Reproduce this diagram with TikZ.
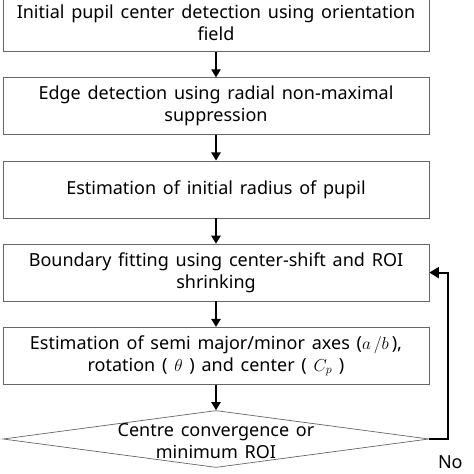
\documentclass[tikz,border=0pt]{standalone}
\usepackage{fontspec}
\setmainfont[WordSpace=1.45]{Noto Sans}
\usepackage{tikz}
\usetikzlibrary{arrows.meta,positioning,shapes.geometric}
\tikzset{>/.tip={Triangle[scale=1.1]}}

\begin{document}
\begin{tikzpicture}[x=1pt,y=1pt,node distance=25.5pt,
  box/.style={draw=black!60,line width=0.7pt,minimum width=426pt,minimum height=57pt,
    align=center,inner sep=0pt,font=\fontsize{18}{22}\selectfont},
  decision/.style={draw=black!60,line width=0.7pt,diamond,minimum width=426pt,minimum height=57pt,inner sep=0pt},
  flow/.style={->,line width=1.6pt}]
\useasboundingbox (0,0) rectangle (474,474);

\node[box] (init) at (216,451) {Initial pupil center detection using orientation\\field};
\node[box,below=of init] (edge) {Edge detection using radial non-maximal\\suppression};
\node[box,below=of edge] (radius) {Estimation of initial radius of pupil};
\node[box,below=of radius] (fit) {Boundary fitting using center-shift and ROI\\shrinking};
\node[box,below=of fit] (axes) {Estimation of semi major/minor axes ($a\,/b\,$),\\rotation ( $\theta$ ) and center ( $C_p$ )};
\node[decision,below=of axes] (check) {};
\node[align=center,font=\fontsize{18}{22}\selectfont] (checktext) at ([yshift=-2pt]check.center) {Centre convergence or\\minimum ROI};
\node[inner sep=0pt,font=\fontsize{18}{22}\selectfont] (no) at ([xshift=21pt,yshift=-23pt]check.east) {No};

\draw[flow] (init) -- (edge);
\draw[flow] (edge) -- (radius);
\draw[flow] (radius) -- (fit);
\draw[flow] (fit) -- (axes);
\draw[flow] (axes) -- (check);
\draw[flow,line width=2pt] (check.east) -- ++(19pt,0) |- (fit.east);
\end{tikzpicture}
\end{document}
